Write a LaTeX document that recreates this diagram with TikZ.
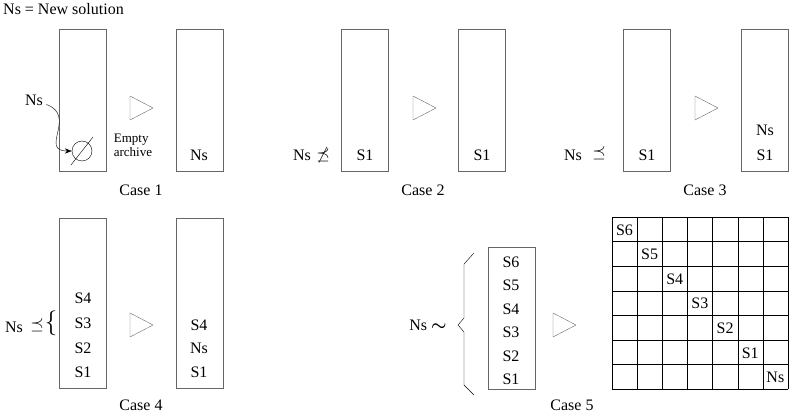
\documentclass[tikz,border=0pt]{standalone}
\usepackage{amsmath,amssymb}
\usepackage{fontspec}
\setmainfont{Liberation Serif}
\usepackage{tikz}
\usetikzlibrary{arrows.meta}
\newcommand\pointer[1]{\draw[goes] (#1) ++(-11,-12) -- ++(23,12) -- ++(-23,12) -- cycle;}

\begin{document}
\begin{tikzpicture}[x=1pt,y=-1pt,font=\fontsize{16}{18}\selectfont,
    archive/.style={draw=gray!80!black,minimum width=47pt,minimum height=#1,inner sep=0pt},
    archive/.default=142pt,
    goes/.style={draw=gray!80!black,thin},
    caselabel/.style={font=\fontsize{16}{18}\selectfont}]
    \useasboundingbox (0,0) rectangle (798,417);
    \node[anchor=north west,inner sep=1pt] (legend) at (2,2) {Ns = New solution};
    % case 1
    \node[archive] (a1) at (82.5,100) {};
    \node[archive] (b1) at (199.5,100) {};
    \pointer{141,108}
    \node (newA) at (34,100) {Ns};
    \node[circle,draw,minimum size=20pt,inner sep=0pt] (empty) at (82,151) {};
    \draw (82,151) ++(-11,14) -- ++(22,-28);
    \draw[-{Stealth[length=7pt]}] (newA) to[out=-20,in=180,looseness=1.6] (empty);
    \node[align=left,font=\fontsize{13}{14}\selectfont] (emptytxt) at (133,145) {Empty\\archive};
    \node (nsb1) at (199,155) {Ns};
    \node[caselabel] (c1) at (141,190) {Case 1};
    % case 2
    \node[archive] (a2) at (364.5,100) {};
    \node[archive] (b2) at (481.5,100) {};
    \pointer{424,108}
    \node (newB) at (302,155) {Ns};
    \node (rel2) at (323,155) {$\not\preceq$};
    \node at (365,155) {S1};
    \node at (482,155) {S1};
    \node[caselabel] (c2) at (423,190) {Case 2};
    % case 3
    \node[archive] (a3) at (646.5,100) {};
    \node[archive] (b3) at (764.5,100) {};
    \pointer{706,108}
    \node (newC) at (573,155) {Ns};
    \node (rel3) at (599,153) {$\preceq$};
    \node at (647,155) {S1};
    \node at (765,130) {Ns};
    \node at (765,155) {S1};
    \node[caselabel] (c3) at (705,190) {Case 3};
    % case 4
    \node[archive=170pt] (a4) at (82.5,303) {};
    \node[archive=170pt] (b4) at (199.5,303) {};
    \pointer{141,325}
    \foreach \s/\y in {4/298,3/323,2/348,1/372} \node at (83,\y) {S\s};
    \node (newD) at (14,327) {Ns};
    \node (rel4) at (37,325) {$\preceq$};
    \node[font=\fontsize{26}{28}\selectfont] (br4) at (51,323) {$\{$};
    \node at (199,325) {S4};
    \node at (199,348) {Ns};
    \node at (199,372) {S1};
    \node[caselabel] (c4) at (141,405) {Case 4};
    % case 5
    \node[archive] (a5) at (511.5,318) {};
    \pointer{564,325}
    \foreach \s/\y in {6/262,5/285,4/309,3/332,2/356,1/379} \node at (511,\y) {S\s};
    \node (newE) at (428,325) {Ns $\boldsymbol{\sim}$};
    \draw (474,253) -- (464,264) -- (464,318) -- (458,325) -- (464,332) -- (464,385) -- (474,395);
    \foreach \i in {0,...,7} {
        \draw (612+25.14*\i,217) -- (612+25.14*\i,389);
        \draw (612,217+24.57*\i) -- (788,217+24.57*\i);
    }
    \foreach \s [count=\i from 0] in {S6,S5,S4,S3,S2,S1,Ns}
        \node at (624.5+25.14*\i,230+24.57*\i) {\s};
    \node[caselabel] (c5) at (572,405) {Case 5};
\end{tikzpicture}
\end{document}
